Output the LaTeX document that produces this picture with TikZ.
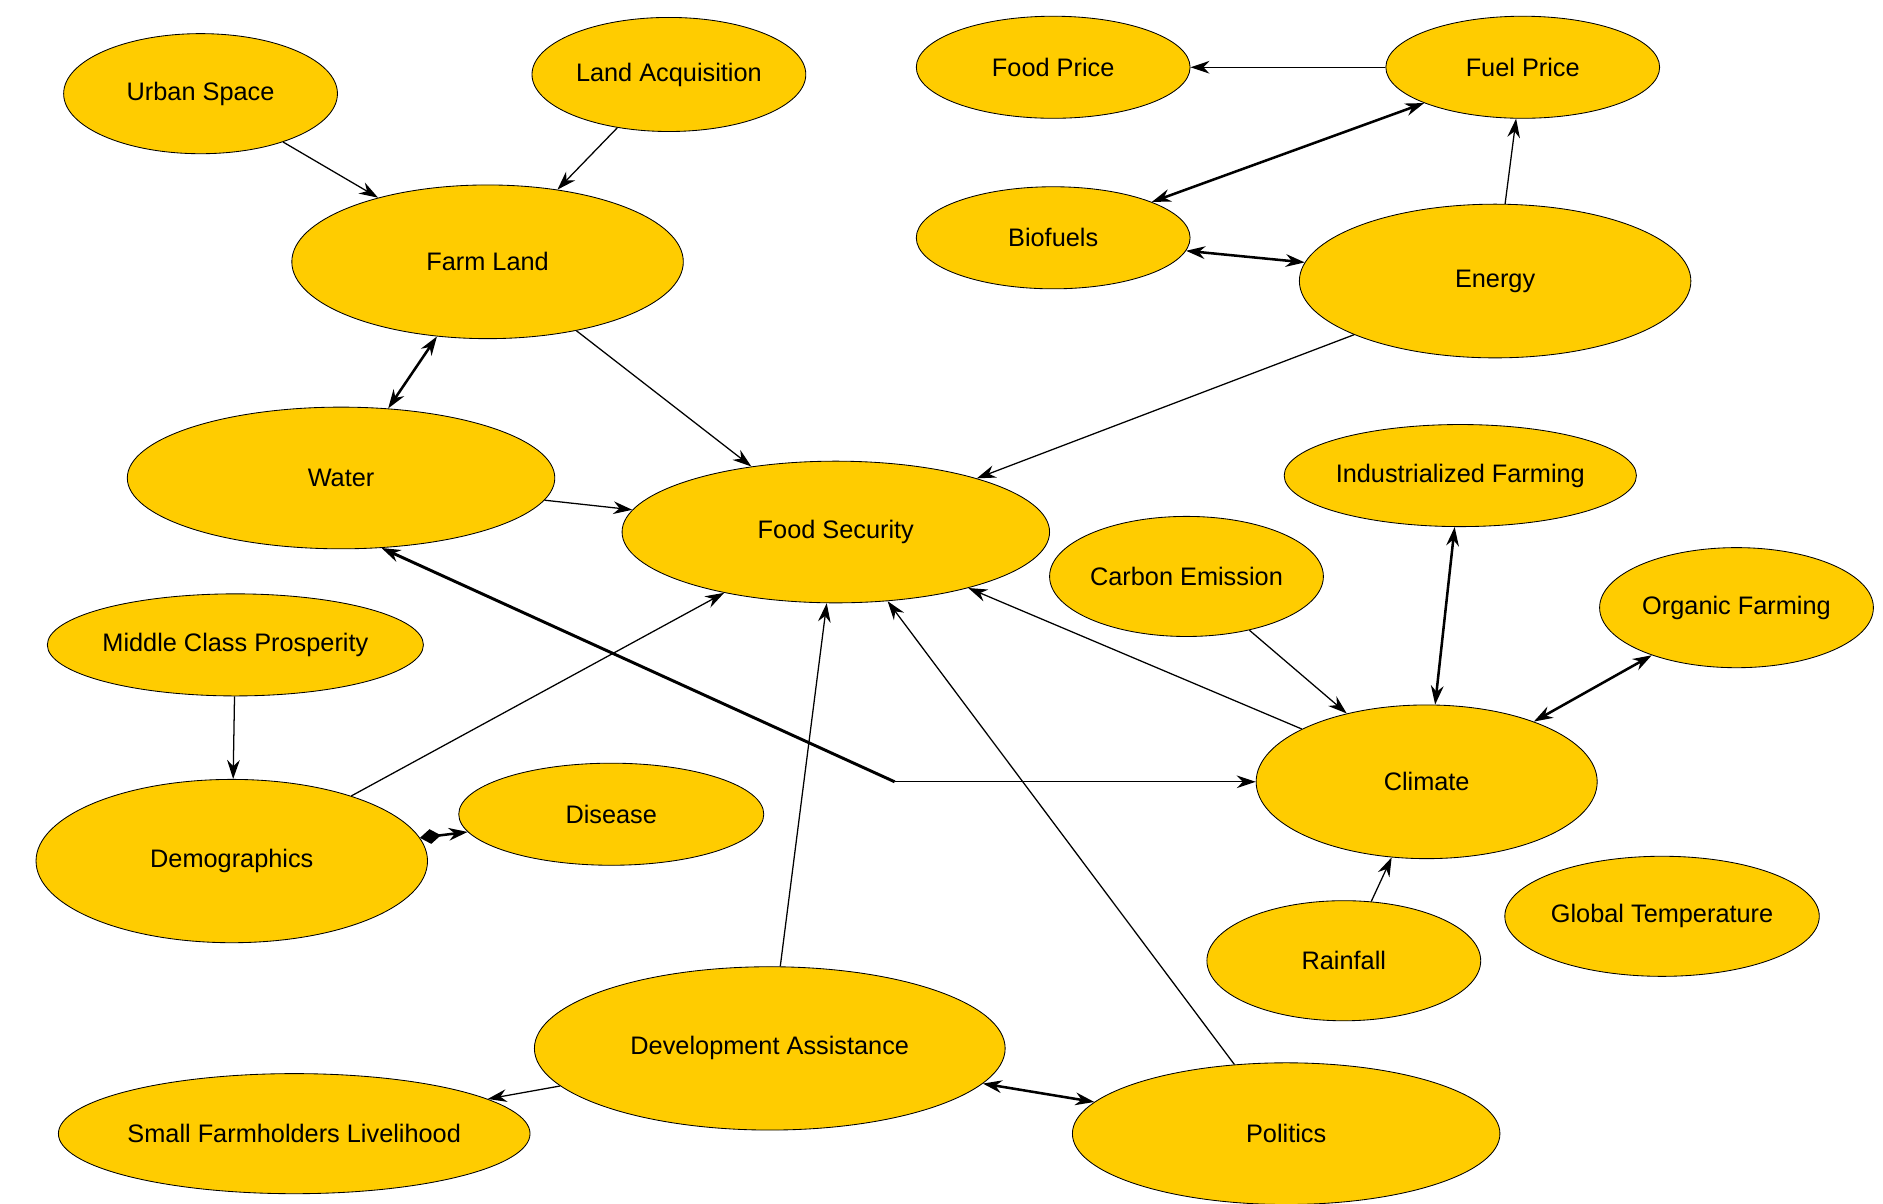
\documentclass[tikz,border=0pt]{standalone}
\usepackage{fontspec}
\setmainfont{Liberation Sans}
\usetikzlibrary{arrows.meta,shapes.geometric}
\definecolor{nodey}{HTML}{FFCC00}
\begin{document}
\begin{tikzpicture}[x=0.02cm,y=-0.02cm,
  el/.style={ellipse,draw=black,fill=nodey,inner sep=0pt,font=\fontsize{12}{14}\selectfont},
  ar/.style={-{Stealth[length=9pt,width=6pt]},line width=0.6pt},
  br/.style={{Stealth[length=9pt,width=6pt]}-{Stealth[length=9pt,width=6pt]},line width=1.2pt}]
\useasboundingbox (0,0) rectangle (1568,1002);
\def\E#1#2#3#4#5#6{\node[el,minimum width=#4*0.02cm,minimum height=#5*0.02cm] (#1) at (#2,#3) {#6};}
\E{us}{167}{78}{228}{100}{Urban Space}
\E{la}{557}{62}{228}{95}{Land Acquisition}
\E{fp}{877}{56}{228}{85}{Food Price}
\E{fu}{1268}{56}{228}{85}{Fuel Price}
\E{fl}{406}{218}{326}{128}{Farm Land}
\E{bf}{877}{198}{228}{85}{Biofuels}
\E{en}{1245}{234}{326}{128}{Energy}
\E{wa}{284}{398}{356}{118}{Water}
\E{fs}{696}{443}{356}{118}{Food Security}
\E{if}{1216}{396}{268}{85}{Industrialized Farming}
\E{ce}{988}{480}{228}{100}{Carbon Emission}
\E{of}{1446}{506}{228}{100}{Organic Farming}
\E{mc}{196}{537}{284}{85}{Middle Class Prosperity}
\E{cl}{1188}{651}{284}{128}{Climate}
\E{di}{509}{678}{254}{85}{Disease}
\E{de}{193}{717}{326}{136}{Demographics}
\E{gt}{1384}{763}{242}{100}{Global Temperature}
\E{ra}{1119}{800}{228}{100}{Rainfall}
\E{da}{641}{873}{392}{136}{Development Assistance}
\E{sf}{245}{944}{326}{100}{Small Farmholders Livelihood}
\E{po}{1071}{944}{356}{118}{Politics}
\coordinate (bend) at (745,651);
\draw[ar] (us) -- (fl);
\draw[ar] (la) -- (fl);
\draw[ar] (fu) -- (fp);
\draw[br] (bf) -- (fu);
\draw[br] (bf) -- (en);
\draw[ar] (en) -- (fu);
\draw[br] (fl) -- (wa);
\draw[ar] (fl) -- (fs);
\draw[ar] (en) -- (fs);
\draw[ar] (wa) -- (fs);
\draw[ar] (cl) -- (fs);
\draw[ar] (ce) -- (cl);
\draw[br] (if) -- (cl);
\draw[br] (of) -- (cl);
\draw[ar] (bend) -- (cl);
\draw[ar,line width=1.4pt] (bend) -- (wa.-60);
\draw[ar] (mc) -- (de);
\draw[ar] (de) -- (fs);
\draw[{Diamond[length=10pt,width=7pt]}-{Stealth[length=9pt,width=6pt]},line width=1.2pt] (de) -- (di);
\draw[ar] (ra) -- (cl);
\draw[ar] (da) -- (fs);
\draw[ar] (da) -- (sf);
\draw[br] (da) -- (po);
\draw[ar] (po) -- (fs);
\end{tikzpicture}
\end{document}
